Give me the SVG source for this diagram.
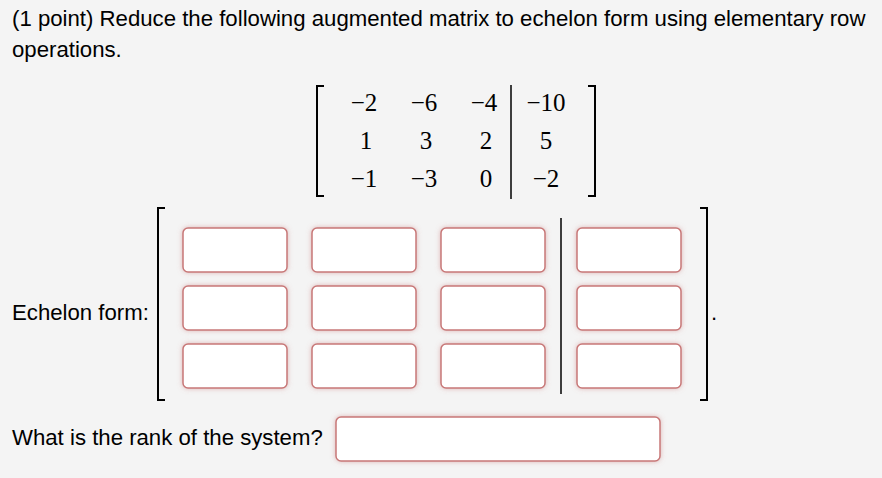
<svg xmlns="http://www.w3.org/2000/svg" width="882" height="478" viewBox="0 0 882 478">
<defs>
<style>
.t{font-family:"Liberation Sans",Arial,sans-serif;font-size:22.2px;fill:#000}
.m{font-family:"Liberation Serif","Times New Roman",serif;font-size:25px;fill:#000;text-anchor:middle}
.b{fill:none;stroke:#000;stroke-width:2}
.box{fill:#fff;stroke:#c87878;stroke-width:1.5;filter:url(#g)}
</style>
<filter id="g" x="-20%" y="-30%" width="140%" height="160%"><feDropShadow dx="0" dy="0" stdDeviation="2.5" flood-color="#c87878" flood-opacity="0.5"/></filter>
</defs>
<rect width="882" height="478" fill="#f4f4f4"/>
<text class="t" x="12" y="26">(1 point) Reduce the following augmented matrix to echelon form using elementary row</text>
<text class="t" x="12" y="57">operations.</text>
<g id="given">
<path class="b" d="M324,86 H317 V196 H324 M588,86 H595 V196 H588"/>
<line x1="511" y1="85" x2="511" y2="199" stroke="#000" stroke-width="1.5"/>
<text class="m" x="364" y="111">−2</text><text class="m" x="424" y="111">−6</text><text class="m" x="484" y="111">−4</text><text class="m" x="546" y="111">−10</text>
<text class="m" x="366" y="149">1</text><text class="m" x="426" y="149">3</text><text class="m" x="486" y="149">2</text><text class="m" x="546" y="149">5</text>
<text class="m" x="364" y="187">−1</text><text class="m" x="424" y="187">−3</text><text class="m" x="486" y="187">0</text><text class="m" x="546" y="187">−2</text>
</g>
<text class="t" x="12" y="320">Echelon form:</text>
<g id="answer">
<path class="b" d="M165,208 H158 V400 H165 M700,208 H707 V400 H700"/>
<line x1="561" y1="218" x2="561" y2="394" stroke="#000" stroke-width="1.5"/>
<text class="t" x="711" y="320">.</text>
<g id="cells">
<rect class="box" x="183" y="228" width="104" height="44" rx="5"/><rect class="box" x="312" y="228" width="104" height="44" rx="5"/><rect class="box" x="441" y="228" width="104" height="44" rx="5"/><rect class="box" x="577" y="228" width="104" height="44" rx="5"/>
<rect class="box" x="183" y="286" width="104" height="44" rx="5"/><rect class="box" x="312" y="286" width="104" height="44" rx="5"/><rect class="box" x="441" y="286" width="104" height="44" rx="5"/><rect class="box" x="577" y="286" width="104" height="44" rx="5"/>
<rect class="box" x="183" y="344" width="104" height="44" rx="5"/><rect class="box" x="312" y="344" width="104" height="44" rx="5"/><rect class="box" x="441" y="344" width="104" height="44" rx="5"/><rect class="box" x="577" y="344" width="104" height="44" rx="5"/>
</g>
</g>
<text class="t" x="12" y="445">What is the rank of the system?</text>
<g id="rank"><rect class="box" x="336" y="417" width="324" height="44" rx="5"/></g>
</svg>
